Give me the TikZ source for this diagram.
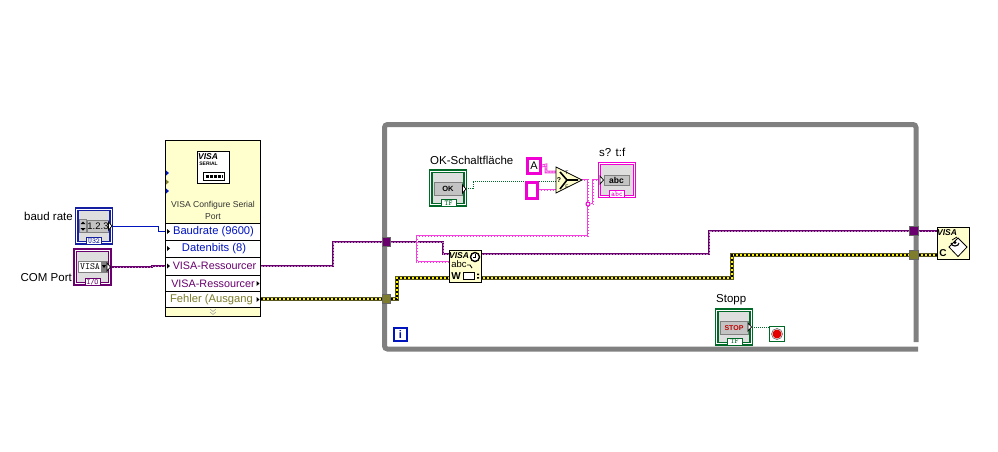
\documentclass[tikz,border=0pt]{standalone}
\usepackage{fontspec}
\setmainfont{Liberation Sans}
\usetikzlibrary{backgrounds,calc}
\definecolor{loopgray}{RGB}{128,128,128}
\definecolor{termblue}{RGB}{20,30,160}
\definecolor{rowblue}{RGB}{0,20,190}
\definecolor{visapurple}{RGB}{105,0,110}
\definecolor{strpink}{RGB}{240,0,210}
\definecolor{okgreen}{RGB}{0,105,40}
\definecolor{iconcream}{RGB}{255,255,205}
\definecolor{errolive}{RGB}{125,125,45}
\definecolor{facegray}{RGB}{222,222,222}
\definecolor{btngray}{RGB}{195,195,195}
\tikzset{
  lbl/.style={font=\fontsize{11.5}{12}\selectfont,inner sep=0pt},
  hdtext/.style={font=\fontsize{8.6}{12.5}\selectfont,align=center,inner sep=0pt},
  rowbox/.style={draw=black,line width=0.8pt,fill=white,minimum width=95.5pt,minimum height=#1,inner sep=0pt,
    font=\fontsize{11.2}{12}\selectfont},
  term/.style={draw=#1,line width=1.5pt,double=white,double distance=0.7pt,fill=facegray,
    minimum width=34.5pt,minimum height=33.5pt,inner sep=0pt},
  tag/.style={draw=#1,text=#1,line width=0.9pt,fill=white,minimum width=15pt,minimum height=7pt,inner sep=0pt,
    font=\ttfamily\bfseries\fontsize{7.5}{7}\selectfont},
  termval/.style={draw=gray,line width=0.8pt,fill=btngray,minimum width=#1,minimum height=13pt,inner sep=0pt},
  iconbox/.style={draw=black,line width=0.8pt,fill=iconcream,minimum width=32pt,minimum height=32pt,inner sep=0pt},
  icontext/.style={inner sep=0pt,font=\bfseries\itshape\fontsize{8.5}{8}\selectfont},
  strconst/.style={draw=strpink,line width=3pt,fill=white,minimum width=12.5pt,minimum height=15pt,inner sep=0pt,
    font=\fontsize{11}{12}\selectfont},
  tunnel/.style={draw=black!60,line width=0.6pt,fill=#1,minimum size=8.5pt,inner sep=0pt},
  termarrow/.style={draw=black,line width=0.7pt,fill=white},
  visawire/.style={draw=visapurple,line width=2pt,postaction={draw=visapurple!45!white,line width=0.8pt,dash pattern=on 1.5pt off 1.5pt}},
  strwire/.style={draw=strpink!75!white,line width=2.8pt,postaction={draw=white,line width=0.9pt,dash pattern=on 2pt off 1pt}},
  errwire/.style={draw=errolive!70!black,line width=3.8pt,postaction={draw=yellow,line width=2.6pt},
    postaction={draw=black,line width=1.4pt,dash pattern=on 2pt off 2pt}},
  numwire/.style={draw=rowblue,line width=1pt},
  boolwire/.style={draw=okgreen,line width=1pt,dash pattern=on 1pt off 1pt},
}
\begin{document}
\begin{tikzpicture}[x=1pt,y=-1pt]
  \useasboundingbox (0,0) rectangle (998,451);

  % configure block
  \node[rowbox=83pt,fill=iconcream] (cfghead) at (213,181.5) {};
  \node[hdtext,text=black!80] (cfgname) at (213,210.5) {VISA Configure Serial\\Port};
  \node[rowbox=17pt,text=rowblue] (baudrow) at (213,231.5) {\hspace*{1pt}Baudrate (9600)};
  \node[rowbox=17pt,text=rowblue] (datarow) at (213,248.5) {\hspace*{2pt}Datenbits (8)};
  \node[rowbox=18pt,text=visapurple,font=\fontsize{10.8}{12}\selectfont] (visain) at (213,266) {\hspace*{3pt}VISA-Ressourcer};
  \node[rowbox=17pt,text=visapurple,font=\fontsize{10.8}{12}\selectfont] (visaout) at (213,283.5) {VISA-Ressourcer};
  \node[rowbox=16pt,text=errolive] (fehler) at (213,299.5) {Fehler (Ausgang\hspace*{3pt}};
  \node[rowbox=9pt,fill=iconcream] (cfgfoot) at (213,312) {};
  \draw[black!35,line width=0.6pt] (210,309) -- (213,311.5) -- (216,309) (210,312) -- (213,314.5) -- (216,312);
  \fill[rowblue] (166,170.5) -- ++(3,2.5) -- ++(-3,2.5) -- cycle;
  \fill[errolive] (166,179.5) -- ++(3,2.5) -- ++(-3,2.5) -- cycle;
  \fill[rowblue] (166,188.5) -- ++(3,2.5) -- ++(-3,2.5) -- cycle;
  \fill (167,229) -- ++(3,2.5) -- ++(-3,2.5) -- cycle;
  \fill (167,246) -- ++(3,2.5) -- ++(-3,2.5) -- cycle;
  \fill (167,263.5) -- ++(3,2.5) -- ++(-3,2.5) -- cycle;
  \fill (256.5,281) -- ++(3,2.5) -- ++(-3,2.5) -- cycle;
  \fill (256.5,297) -- ++(3,2.5) -- ++(-3,2.5) -- cycle;

  % serial icon
  \node[iconbox,fill=white] (cfgicon) at (213,167.5) {};
  \node[icontext] (cfgvisa) at (208,157) {VISA};
  \node[inner sep=0pt,font=\bfseries\fontsize{5}{5}\selectfont] (cfgserial) at (208.5,164) {SERIAL};
  \node[draw=black,line width=1pt,fill=white,minimum width=21pt,minimum height=8pt,inner sep=0pt] (cfgport) at (214,176) {};
  \draw[black,line width=3pt,dash pattern=on 3pt off 1pt] (205.5,176) -- (223,176);

  % controls on the left
  \node[lbl,anchor=east] (baudlbl) at (73,216) {baud rate};
  \node[lbl,anchor=east] (comlbl) at (72,278) {COM Port};
  \node[term=termblue] (baud) at (94,226) {};
  \node[draw=gray,fill=btngray,minimum width=21pt,minimum height=12pt,inner sep=0pt,font=\fontsize{9.5}{10}\selectfont] (baudval) at (98,226) {1.2.3};
  \node[draw=gray,fill=btngray,minimum width=7pt,minimum height=13pt,inner sep=0pt] (baudspin) at (83,226) {};
  \fill (80.5,224) -- (83,221.5) -- (85.5,224) -- cycle;
  \fill (80.5,228) -- (83,230.5) -- (85.5,228) -- cycle;
  \draw[termarrow] (108.5,222) -- (112,226) -- (108.5,230) -- cycle;
  \node[tag=termblue] (baudtag) at (94,241) {U32};
  \node[term=visapurple] (com) at (92.5,267) {};
  \node[draw=gray,fill=white,minimum width=29pt,minimum height=11pt,inner sep=0pt,font=\ttfamily\fontsize{9.5}{10}\selectfont] (comval) at (92.5,266.5) {\hspace*{-5pt}VISA};
  \fill[gray] (101,261.5) rectangle (107,272);
  \fill (102,265) -- (106,265) -- (104,268) -- cycle;
  \draw[termarrow] (107,263) -- (110.5,267) -- (107,271) -- cycle;
  \node[tag=visapurple] (comtag) at (92.5,282) {I/O};

  % loop contents
  \node[lbl,anchor=west] (oklbl) at (430,160) {OK-Schaltfläche};
  \node[term=okgreen] (ok) at (448,188) {};
  \node[termval=28pt,font=\fontsize{7.5}{7}\bfseries\selectfont] (okval) at (448,189) {OK};
  \draw[termarrow] (462.5,185) -- (466,189) -- (462.5,193) -- cycle;
  \node[tag=okgreen] (oktag) at (448.5,203) {TF};

  \node[strconst] (consta) at (534,166) {A};
  \node[strconst,minimum height=16pt,minimum width=11pt] (constb) at (531.5,190) {};

  \coordinate (seltip) at (582,180);
  \coordinate (selt) at (556,172);
  \coordinate (selm) at (556,181);
  \coordinate (self) at (556,190);
  \draw[fill=iconcream,line width=0.8pt] (556,167) -- (seltip) -- (556,193) -- cycle;
  \draw[line width=1.6pt] (560,172) -- (567,180) -- (560,189) (567,180) -- (578,180);
  \node[inner sep=0pt,font=\bfseries\fontsize{7}{7}\selectfont] (selq) at (559,180) {?};
  \node[inner sep=0pt,font=\fontsize{5}{5}\selectfont] (selT) at (567,173) {T};
  \node[inner sep=0pt,font=\fontsize{5}{5}\selectfont] (selF) at (567,187) {F};

  \node[lbl,anchor=west] (indlbl) at (599,152) {s? t:f};
  \node[term=strpink,line width=1.2pt,double distance=1pt,minimum width=35pt,minimum height=33.5pt] (ind) at (617,180) {};
  \node[termval=25pt,minimum height=10pt,font=\fontsize{8.5}{8}\bfseries\selectfont] (indval) at (616.5,180) {abc};
  \draw[termarrow] (600,176) -- (603.5,180) -- (600,184) -- cycle;
  \node[tag=strpink,minimum width=15pt] (indtag) at (617,194) {abc};

  \node[circle,draw=strpink,line width=1pt,fill=white,minimum size=4pt,inner sep=0pt] (junc) at (588,204) {};

  % write icon
  \node[iconbox] (write) at (465,266) {};
  \node[icontext] (wrvisa) at (459,256) {VISA};
  \node[inner sep=0pt,font=\fontsize{9.5}{9}\selectfont] (wrabc) at (459,264.5) {abc};
  \node[circle,draw=black,line width=1.4pt,fill=white,minimum size=9pt,inner sep=0pt] (wrclock) at (475,257) {};
  \draw[line width=0.7pt] (475,253.5) -- (475,257) -- (473,257);
  \draw[line width=0.9pt] (467,265) -- (470,265) -- (472,268);
  \node[inner sep=0pt,font=\bfseries\fontsize{10}{9}\selectfont] (wrw) at (456,276.5) {W};
  \node[draw=black,line width=0.9pt,fill=white,minimum width=11pt,minimum height=7pt,inner sep=0pt] (wrport) at (469,276) {};
  \fill (477,273.5) rectangle (479,275) (477,277) rectangle (479,278.5);

  % close icon
  \node[iconbox] (close) at (953,243) {};
  \node[icontext] (clvisa) at (947,232.5) {VISA};
  \node[inner sep=0pt,font=\bfseries\fontsize{10}{10}\selectfont] (clc) at (943,253) {C};
  \draw[line width=0.8pt,fill=white] (949,247) -- (958,238) -- (967,247) -- (958,256.5) -- cycle;
  \draw[line width=1.1pt] (951,243) arc (180:0:4 and 3);
  \fill (955,242.5) circle (1.6pt);
  \draw[line width=0.8pt] (952,240) -- (957,237);

  % tunnels
  \node[tunnel=visapurple] (tuna) at (386.5,242) {};
  \node[tunnel=errolive] (tunb) at (386.5,299) {};
  \node[tunnel=visapurple] (tunc) at (914,231) {};
  \node[tunnel=errolive] (tund) at (914,255) {};

  % stop
  \node[lbl,anchor=west] (stoplbl) at (716,300) {Stopp};
  \node[term=okgreen] (stop) at (734,327) {};
  \node[termval=28pt,text=red!75!black,font=\fontsize{7}{7}\bfseries\selectfont] (stopval) at (734,328) {STOP};
  \draw[termarrow] (748,323) -- (751.5,327) -- (748,331) -- cycle;
  \node[tag=okgreen] (stoptag) at (734.5,341.5) {TF};
  \node[draw=okgreen,line width=0.9pt,fill=white,minimum size=15pt,inner sep=0pt] (cond) at (777,334) {};
  \fill[red!90!black] (cond) circle (4.5pt);
  \draw[black!70,line width=0.5pt] (cond) circle (5.5pt);

  % iteration
  \node[draw=rowblue,line width=1.6pt,fill=white,minimum size=13.5pt,inner sep=0pt,text=rowblue,font=\bfseries\fontsize{11}{11}\selectfont] (iter) at (400.5,334.5) {i};

  \begin{scope}[on background layer]
    \draw[loopgray,line width=5pt,rounded corners=3pt] (916,342) -- (916,124.5) -- (384.5,124.5) -- (384.5,349) -- (918,349);
    \draw[numwire] (baud.east) -- ++(46,0) |- (baudrow.west);
    \draw[visawire] (com.east) -- (152,267) -- (152,266) -- (visain.west);
    \draw[visawire] (visain.east) -- (333,266) |- (tuna.west);
    \draw[errwire] (fehler.east |- tunb.west) -- (tunb.west);
    \draw[visawire] (tuna.east) -- (443,242) |- ([yshift=12pt]write.west);
    \draw[errwire] (tunb.east) -- (397,299) |- ([yshift=-12pt]write.west);
    \draw[visawire] ([yshift=12pt]write.east) -- (709,254) |- (tunc.west);
    \draw[errwire] ([yshift=-12pt]write.east) -- (732,278) |- (tund.west);
    \draw[visawire] (tunc.east) -- ([yshift=12pt]close.west);
    \draw[errwire] (tund.east) -- ([yshift=-12pt]close.west);
    \draw[boolwire] (ok.east) -- (473,188) |- (selm);
    \draw[strwire] (consta.east) -- (546,165) |- (selt);
    \draw[strwire] (constb.east) -- (self);
    \draw[strwire] (seltip) -- (588,180) -- (588,236) -- (417,236) |- ([yshift=4pt]write.west);
    \draw[strwire] (junc) -- (593,204) |- (ind.west);
    \draw[boolwire] (stop.east) -- (cond.west |- stop.east);
  \end{scope}
\end{tikzpicture}
\end{document}
